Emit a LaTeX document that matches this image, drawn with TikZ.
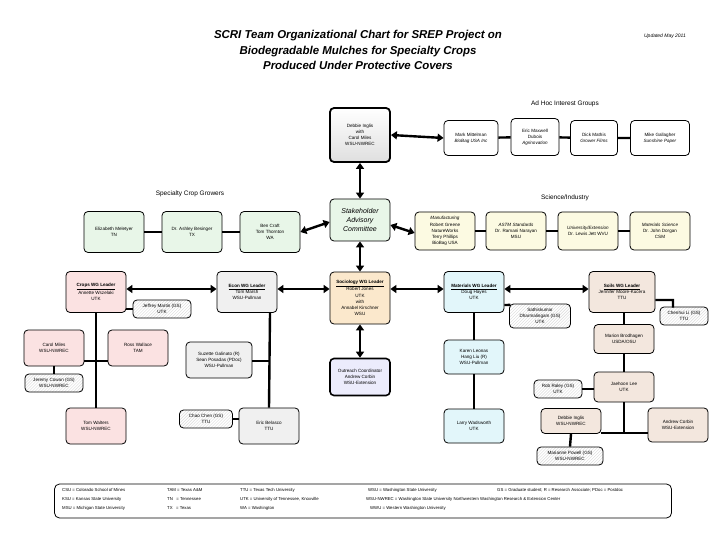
\documentclass[tikz,border=0pt]{standalone}
\usepackage{fontspec}
\setmainfont{Liberation Sans}
\usetikzlibrary{arrows.meta,patterns}
\definecolor{cgr}{RGB}{232,246,232}
\definecolor{cpk}{RGB}{251,226,226}
\definecolor{cgy}{RGB}{240,240,240}
\definecolor{cpe}{RGB}{251,232,204}
\definecolor{ccy}{RGB}{226,246,250}
\definecolor{ctn}{RGB}{243,231,222}
\definecolor{clv}{RGB}{236,236,252}
\definecolor{cye}{RGB}{252,250,226}
\newcommand{\hdr}[1]{\underline{\textbf{#1}}\rule[-2bp]{0pt}{0pt}}
\begin{document}
\begin{tikzpicture}[x=1bp,y=-1bp,
 box/.style={draw,rounded corners=4bp,line width=0.8bp,align=center,inner sep=1bp,
   font=\fontsize{4.6}{6.2}\selectfont,minimum width=60bp,minimum height=40bp},
 gs/.style={box,minimum width=58bp,minimum height=18bp,pattern=north east lines,pattern color=gray!30},
 ln/.style={line width=2.4bp},
 dar/.style={line width=2.4bp,{Triangle[length=6bp,width=8bp]}-{Triangle[length=6bp,width=8bp]}},
 lab/.style={font=\fontsize{6.5}{8}\selectfont}]
\useasboundingbox (0,0) rectangle (720,540);
\node[font=\bfseries\itshape\fontsize{11.5}{15.5}\selectfont,align=center] (title) at (358,50)
 {SCRI Team Organizational Chart for SREP Project on\\Biodegradable Mulches for Specialty Crops\\Produced Under Protective Covers};
\node[font=\itshape\fontsize{5}{6}\selectfont] (upd) at (665,36) {Updated May 2011};
\node[lab] (adhoc) at (565,104) {Ad Hoc Interest Groups};
\node[lab] (sci) at (565,198) {Science/Industry};
\node[lab] (scg) at (190,194) {Specialty Crop Growers};

\node[box,line width=1.8bp,top color=white,bottom color=gray!25,minimum height=54bp] (deb) at (360,135) {Debbie Inglis\\with\\Carol Miles\\WSU-NWREC};
\node[box,fill=cgr,minimum height=42bp,font=\itshape\fontsize{7}{9}\selectfont] (stake) at (360,220) {Stakeholder\\Advisory\\Committee};

\node[box,minimum width=54bp,minimum height=35bp] (mark) at (471,138) {Mark Mittelman\\\textit{BioBag USA Inc}};
\node[box,minimum width=48bp,minimum height=37bp] (eric) at (535,137) {Eric Maxwell\\Dubois\\\textit{Agrinovation}};
\node[box,minimum width=47bp,minimum height=35bp] (dick) at (594,138) {Dick Mathis\\\textit{Grower Films}};
\node[box,minimum width=59bp,minimum height=35bp] (mike) at (660,138) {Mike Gallagher\\\textit{Sunshine Paper}};
\draw[ln] (mark)--(eric) (eric)--(dick) (dick)--(mike);

\node[box,fill=cye,minimum height=38bp] (man) at (445,231) {\textit{Manufacturing}\\Robert Greene\\NatureWorks\\Terry Phillips\\BioBag USA};
\node[box,fill=cye,minimum height=38bp] (astm) at (516,231) {\textit{ASTM Standards}\\Dr. Ramani Narayan\\MSU};
\node[box,fill=cye,minimum height=38bp] (univ) at (588,231) {\textit{University/Extension}\\Dr. Lewis Jett WVU};
\node[box,fill=cye,minimum height=38bp] (mat) at (660,231) {\textit{Materials Science}\\Dr. John Dorgan\\CSM};
\draw[ln] (man)--(astm) (astm)--(univ) (univ)--(mat);

\node[box,fill=cgr,minimum height=41bp] (eliz) at (114,232) {Elizabeth Meletyer\\TN};
\node[box,fill=cgr,minimum height=41bp] (ash) at (192,232) {Dr. Ashley Besinger\\TX};
\node[box,fill=cgr,minimum height=41bp] (ben) at (270,232) {Ben Craft\\Tom Thornton\\WA};
\draw[ln] (eliz)--(ash) (ash)--(ben);

\node[box,fill=cpk,minimum height=41bp] (crops) at (96,292) {\hdr{Crops WG Leader}\\Annette Wszelaki\\UTK};
\node[gs] (jeff) at (162,309) {Jeffrey Martin (GS)\\UTK};
\node[box,fill=cpk,minimum height=36bp] (carol) at (54,348) {Carol Miles\\WSU-NWREC};
\node[box,fill=cpk,minimum height=36bp] (ross) at (138,348) {Ross Wallace\\TAM};
\node[gs] (jer) at (54,383) {Jeremy Cowan (GS)\\WSU-NWREC};
\node[box,fill=cpk,minimum height=36bp] (tomw) at (96,426) {Tom Walters\\WSU-NWREC};
\draw[ln] (crops.south)--(tomw.north);
\draw[ln] (crops.east|-jeff.west)--(jeff.west);
\draw[ln] ([yshift=-13bp]carol.east)--([yshift=-13bp]ross.west);
\draw[ln] (carol.south)--(jer.north);

\node[box,fill=cgy,minimum height=41bp] (econ) at (247,292) {\hdr{Econ WG Leader}\\Tom Marsh\\WSU-Pullman};
\node[box,fill=cgy,minimum width=66bp,minimum height=36bp] (suz) at (219,360) {Suzette Galinato (R)\\Sean Posadas (PDoc)\\WSU-Pullman};
\node[box,fill=cgy,minimum height=36bp] (bel) at (269,426) {Eric Belasco\\TTU};
\node[gs,minimum width=53bp] (chao) at (206,419) {Chao Chen (GS)\\TTU};
\coordinate (ev) at (270,361);
\draw[ln] (270,313)--(bel.north);
\draw[ln] (suz.east|-ev)--(ev);
\draw[ln] (chao.east)--(chao.east-|bel.west);

\node[box,fill=cpe,minimum height=52bp] (soc) at (360,298) {\hdr{Sociology WG Leader}\\Robert Jones\\UTK\\with\\Annabel Kirschner\\WSU};
\node[box,fill=clv,line width=1.6bp,minimum height=37bp] (out) at (360,377) {Outreach Coordinator\\Andrew Corbin\\WSU-Extension};

\node[box,fill=ccy,minimum height=41bp] (matw) at (474,292) {\hdr{Materials WG Leader}\\Doug Hayes\\UTK};
\node[gs,minimum width=61bp,minimum height=24bp] (sath) at (540,316) {Sathiskumar\\Dharmalingam (GS)\\UTK};
\node[box,fill=ccy,minimum height=34bp] (kar) at (474,357) {Karen Leonas\\Hang Liu (R)\\WSU-Pullman};
\node[box,fill=ccy,minimum height=34bp] (lar) at (474,426) {Larry Wadsworth\\UTK};
\draw[ln] (matw.south)--(kar.north) (kar.south)--(lar.north);
\draw[ln] ([yshift=-13bp]matw.east)--(sath.north west|-0,305)--(sath.north west);

\node[box,fill=ctn,minimum width=66bp,minimum height=41bp] (soil) at (622,292) {\hdr{Soils WG Leader}\\Jennifer Moore-Kucera\\TTU};
\node[gs,minimum width=48bp] (chen) at (684,316) {Chenhui Li (GS)\\TTU};
\node[box,fill=ctn,minimum height=29bp] (mar) at (624,339) {Marion Brodhagen\\USDA/OSU};
\node[box,fill=ctn,minimum height=30bp] (jae) at (624,387) {Jaehoon Lee\\UTK};
\node[gs,minimum width=48bp] (rob) at (558,389) {Rob Raley (GS)\\UTK};
\node[box,fill=ctn,minimum height=25bp] (dbi) at (571,421) {Debbie Inglis\\WSU-NWREC};
\node[box,fill=ctn,minimum height=34bp] (acor) at (678,425) {Andrew Corbin\\WSU-Extension};
\node[gs,minimum width=66bp] (mpw) at (570,456) {Marianne Powell (GS)\\WSU-NWREC};
\coordinate (sj) at (624,433);
\draw[ln] ([yshift=-8bp]soil.east)--(673,300)--(673,307.5);
\draw[ln] (624,313)--(mar.north) (mar.south)--(jae.north) (jae.south)--(sj);
\draw[ln] (rob.east)--(rob.east-|jae.west);
\draw[ln] (dbi.east|-sj)--(sj)--(acor.west|-sj);
\draw[ln] (dbi.south)--(mpw.north);

\draw[dar] (deb.east)--(mark.west);
\draw[dar] (deb.south)--(stake.north);
\draw[dar] (stake.south)--(soc.north);
\draw[dar] (soc.south)--(out.north);
\draw[dar] ([yshift=-5bp]stake.east)--([yshift=-2bp]man.west);
\draw[dar] (ben.east)--([yshift=-2bp]stake.west);
\draw[dar] (crops.east|-0,289)--(econ.west|-0,289);
\draw[dar] (econ.east|-0,289)--(soc.west|-0,289);
\draw[dar] (soc.east|-0,289)--(matw.west|-0,289);
\draw[dar] (matw.east|-0,289)--(soil.west|-0,289);

\node[draw,rounded corners=5bp,line width=0.8bp,minimum width=617bp,minimum height=34bp] (leg) at (363,501) {};
\begin{scope}[every node/.style={font=\fontsize{4.3}{5.5}\selectfont,anchor=west,inner sep=0}]
\node (l1) at (62,490) {CSU = Colorado School of Mines};
\node (l2) at (62,499) {KSU = Kansas State University};
\node (l3) at (62,508) {MSU = Michigan State University};
\node (l4) at (167,490) {TAM = Texas A\&M};
\node (l5) at (167,499) {TN \ \ = Tennessee};
\node (l6) at (167,508) {TX \ \ = Texas};
\node (l7) at (240,490) {TTU = Texas Tech University};
\node (l8) at (240,499) {UTK = University of Tennessee, Knoxville};
\node (l9) at (240,508) {WA = Washington};
\node (l10) at (368,490) {WSU = Washington State University};
\node (l11) at (366,499) {WSU-NWREC = Washington State University Northwestern Washington Research \& Extension Center};
\node (l12) at (370,508) {WWU = Western Washington University};
\node (l13) at (497,490) {GS = Graduate student; R = Research Associate; PDoc = Postdoc};
\end{scope}
\end{tikzpicture}
\end{document}
